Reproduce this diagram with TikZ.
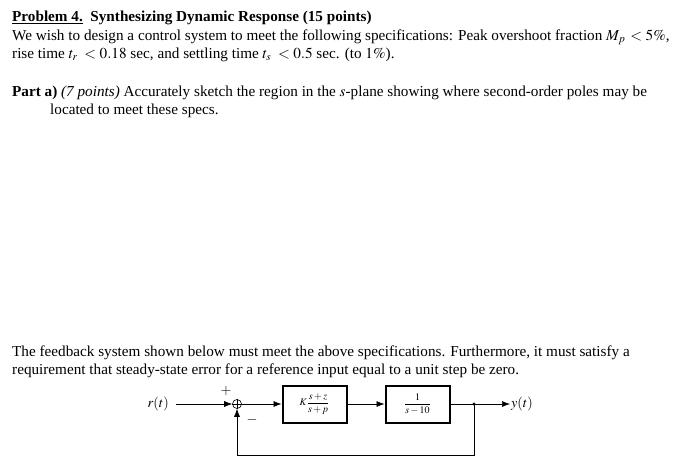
\documentclass[tikz,border=0pt]{standalone}
\usepackage{mathptmx}
\usepackage{fontspec}
\setmainfont{Liberation Serif}
\usetikzlibrary{arrows.meta}
\begin{document}
\begin{tikzpicture}[x=1pt,y=-1pt,
  txt/.style={anchor=base west,inner sep=0pt,font=\fontsize{15.2}{17}\selectfont},
  blk/.style={draw,line width=2pt,minimum width=64pt,minimum height=37pt,inner sep=0pt},
  sig/.style={-{Latex[length=8pt,width=6pt]},line width=0.6pt},
  lab/.style={font=\fontsize{14}{16}\selectfont,inner sep=1pt}]
\useasboundingbox (0,0) rectangle (691,472);
\node[txt] (t1) at (12,21) {\underline{\textbf{Problem 4.}}\ \ \textbf{Synthesizing Dynamic Response (15 points)}};
\node[txt] (t2) at (12,40) {We wish to design a control system to meet the following specifications: Peak overshoot fraction $M_p\,<5\%$,};
\node[txt] (t3) at (12,58) {rise time $t_r\;<0.18$ sec, and settling time $t_s\;<0.5$ sec. (to $1\%$).};
\node[txt] (t4) at (12,96) {\textbf{Part a)} \textit{(7 points)} Accurately sketch the region in the $s$-plane showing where second-order poles may be};
\node[txt] (t5) at (50,114) {located to meet these specs.};
\node[txt] (t6) at (12,356) {The feedback system shown below must meet the above specifications. Furthermore, it must satisfy a};
\node[txt] (t7) at (12,374) {requirement that steady-state error for a reference input equal to a unit step be zero.};
\node[lab,anchor=east] (r) at (170,404) {$r(t)$};
\node[draw,circle,inner sep=0pt,minimum size=9pt,line width=0.6pt] (sum) at (237,404) {};
\draw[line width=0.5pt] (sum.north)--(sum.south) (sum.west)--(sum.east);
\node[lab] at (226,391) {$+$};
\node[lab] at (252,420) {$-$};
\node[blk] (g1) at (314.5,404) {$K\displaystyle\frac{s+z}{s+p}$};
\node[blk] (g2) at (417.5,404) {$\displaystyle\frac{1}{s-10}$};
\coordinate (j) at (474,404);
\fill (j) circle (1.6pt);
\node[lab,anchor=west] (y) at (510,404) {$y(t)$};
\coordinate (b) at (474,455);
\draw[sig] (r.east)++(6,0) -- (sum);
\draw[sig] (sum)--(g1);
\draw[sig] (g1)--(g2);
\draw[line width=0.6pt] (g2)--(j);
\draw[sig] (j)--(y);
\draw[sig] (j)--(b)-|(sum.south);
\end{tikzpicture}
\end{document}
